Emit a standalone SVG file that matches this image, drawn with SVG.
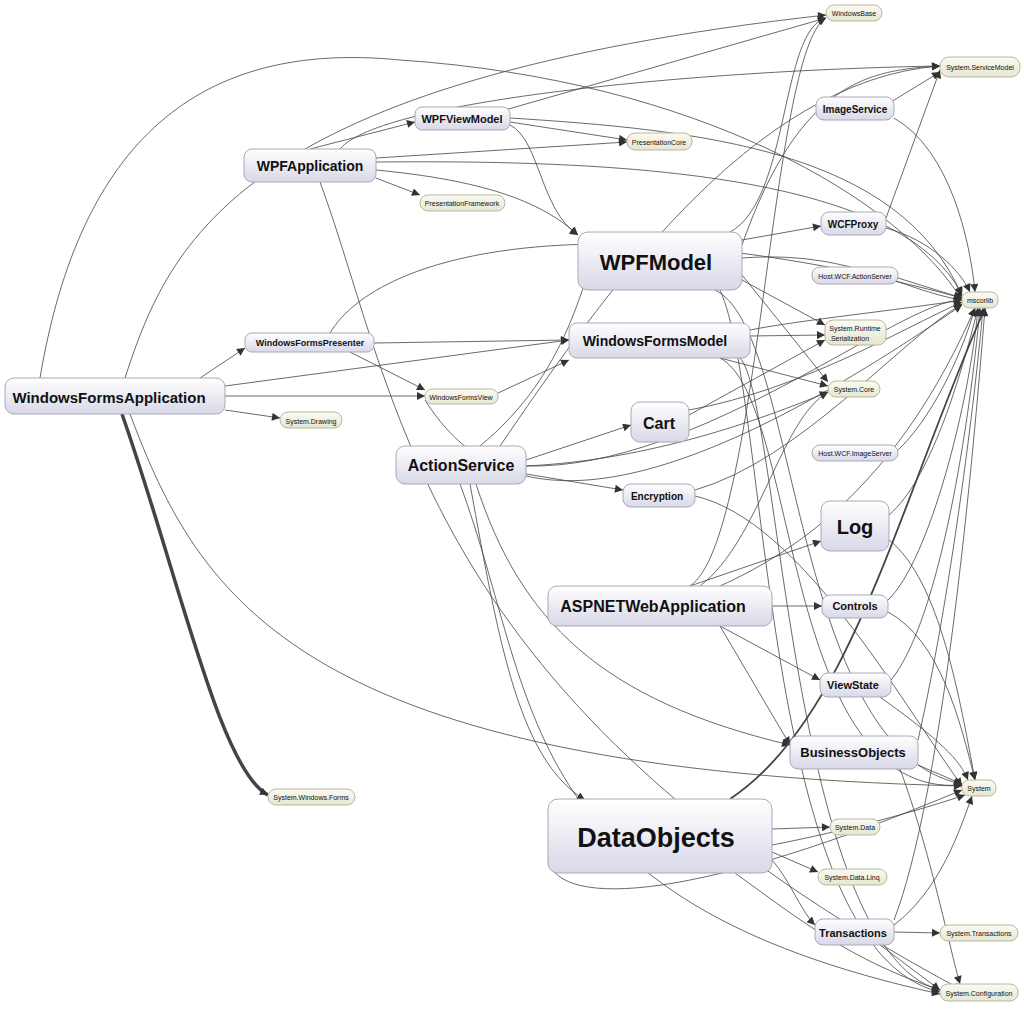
<svg xmlns="http://www.w3.org/2000/svg" width="1024" height="1020" viewBox="0 0 1024 1020">
<defs>
<linearGradient id="gb" x1="0" y1="0" x2="0" y2="1"><stop offset="0" stop-color="#ffffff"/><stop offset="1" stop-color="#d8d8e8"/></linearGradient>
<linearGradient id="gy" x1="0" y1="0" x2="0" y2="1"><stop offset="0" stop-color="#fbfbf3"/><stop offset="1" stop-color="#e6e6d2"/></linearGradient>
<marker id="a" viewBox="0 0 10 10" refX="10" refY="5" markerWidth="12" markerHeight="8" markerUnits="userSpaceOnUse" orient="auto"><path d="M0,0 L10,5 L0,10 z" fill="#333"/></marker>
</defs>
<style>
.n rect{fill:url(#gb);stroke:#a8a8b8;stroke-width:1}
.x rect{fill:url(#gy);stroke:#b8b8a0;stroke-width:1}
text{font-family:"Liberation Sans",Arial,sans-serif;fill:#111;text-anchor:middle;dominant-baseline:central}
.n text{font-weight:bold}
.n text.h{font-weight:normal;font-size:7px}
.x text{font-size:7px}
#edges path{fill:none;stroke:#444;stroke-width:0.8;marker-end:url(#a)}
#edges path.t{stroke-width:3.5}
#edges path.m{stroke-width:1.8}
</style>
<rect width="1024" height="1020" fill="#fff"/>
<g id="edges">
<path d="M125,378 C170,240 240,80 826,15"/>
<path d="M200,378 L245,348"/>
<path d="M225,386 L569,340"/>
<path d="M225,396 L425,396"/>
<path d="M225,410 L280,418"/>
<path class="t" d="M122,414 C180,580 220,770 268,795"/>
<path d="M130,414 C200,600 300,770 962,786"/>
<path d="M40,378 C80,140 200,40 400,60 C700,80 900,200 962,300"/>
<path d="M310,149 L415,122"/>
<path d="M376,158 L627,142"/>
<path d="M376,178 L420,195"/>
<path d="M376,170 C480,180 540,200 578,235"/>
<path d="M376,162 C600,160 900,170 962,295"/>
<path d="M340,149 C380,100 700,70 940,66"/>
<path d="M320,182 C400,400 420,700 962,990"/>
<path d="M505,110 L826,18"/>
<path d="M510,122 L627,140"/>
<path d="M510,125 C540,140 540,210 578,235"/>
<path d="M510,118 C700,130 900,150 962,296"/>
<path d="M374,343 L569,340"/>
<path d="M350,352 L425,390"/>
<path d="M330,333 C380,250 600,200 962,298"/>
<path d="M498,393 L569,360"/>
<path d="M425,400 C500,520 650,520 962,305"/>
<path d="M750,336 L825,335"/>
<path d="M720,358 L828,386"/>
<path d="M750,330 C800,320 900,310 962,300"/>
<path d="M720,358 C800,400 780,800 962,785"/>
<path d="M740,358 C780,400 790,950 940,990"/>
<path d="M742,240 L821,226"/>
<path d="M742,280 L825,325"/>
<path d="M742,275 L828,382"/>
<path d="M742,258 C850,250 900,290 962,300"/>
<path d="M730,232 C790,200 780,30 826,18"/>
<path d="M742,245 C800,80 870,70 940,66"/>
<path d="M715,290 C800,330 790,750 962,784"/>
<path d="M720,290 C770,400 760,950 940,992"/>
<path d="M526,460 L631,425"/>
<path d="M526,474 L623,490"/>
<path d="M480,446 C560,380 580,300 600,232"/>
<path d="M526,466 C650,460 760,420 828,392"/>
<path d="M526,466 C700,470 900,300 962,300"/>
<path d="M476,484 C520,620 600,700 790,745"/>
<path d="M470,484 C500,650 520,760 585,800"/>
<path d="M460,484 C540,700 510,900 940,994"/>
<path d="M500,446 C600,300 750,80 940,66"/>
<path d="M689,415 L825,340"/>
<path d="M689,410 C800,390 900,330 962,302"/>
<path d="M695,490 C800,460 900,340 962,304"/>
<path d="M695,496 C800,520 900,700 962,786"/>
<path d="M886,105 L940,72"/>
<path d="M894,118 C950,150 970,240 975,292"/>
<path d="M886,218 L940,70"/>
<path d="M886,228 C930,240 960,270 970,292"/>
<path d="M898,278 L962,298"/>
<path d="M898,450 C930,420 960,360 975,308"/>
<path d="M889,515 C930,480 960,380 978,308"/>
<path d="M889,540 C940,580 960,700 975,780"/>
<path d="M690,586 L821,541"/>
<path d="M772,606 L822,606"/>
<path d="M720,626 L820,680"/>
<path d="M720,626 L790,745"/>
<path d="M690,586 C760,540 770,50 826,18"/>
<path d="M700,586 C760,540 780,420 828,392"/>
<path d="M720,586 C800,550 900,480 975,308"/>
<path d="M888,600 C930,560 970,400 978,308"/>
<path d="M888,612 C940,640 960,720 975,780"/>
<path d="M891,680 C940,620 970,420 980,308"/>
<path d="M880,697 C940,740 960,760 968,780"/>
<path d="M918,765 L962,784"/>
<path d="M918,740 C950,600 975,400 983,308"/>
<path d="M900,769 C930,850 950,950 960,984"/>
<path d="M772,829 L830,827"/>
<path d="M772,852 L818,872"/>
<path class="m" d="M730,799 C850,720 900,500 985,308"/>
<path d="M772,845 C850,830 920,810 965,795"/>
<path d="M735,873 C800,920 850,960 940,990"/>
<path d="M772,860 C790,880 800,910 815,925"/>
<path d="M894,932 L940,933"/>
<path d="M880,945 L940,990"/>
<path d="M894,925 C940,890 960,830 972,796"/>
<path d="M894,920 C940,800 970,500 985,308"/>
<path d="M548,860 C560,910 700,900 962,790"/>
</g>
<g id="WindowsFormsApplication" class="n"><rect x="5" y="378" width="220" height="36" rx="9"/><text x="109" y="397" font-size="15">WindowsFormsApplication</text></g>
<g id="WPFApplication" class="n"><rect x="244" y="149" width="132" height="33" rx="8"/><text x="310" y="166" font-size="14">WPFApplication</text></g>
<g id="WPFViewModel" class="n"><rect x="415" y="107" width="95" height="23" rx="7"/><text x="462" y="119" font-size="11">WPFViewModel</text></g>
<g id="WindowsBase" class="x"><rect x="826" y="5" width="56" height="16" rx="8"/><text x="854" y="13">WindowsBase</text></g>
<g id="SystemServiceModel" class="x"><rect x="940" y="57" width="80" height="20" rx="9"/><text x="980" y="67">System.ServiceModel</text></g>
<g id="ImageService" class="n"><rect x="816" y="97" width="78" height="23" rx="8"/><text x="855" y="109" font-size="10">ImageService</text></g>
<g id="PresentationCore" class="x"><rect x="627" y="133" width="65" height="17" rx="8"/><text x="659" y="142">PresentationCore</text></g>
<g id="PresentationFramework" class="x"><rect x="420" y="195" width="85" height="16" rx="8"/><text x="462" y="203">PresentationFramework</text></g>
<g id="WPFModel" class="n"><rect x="578" y="232" width="164" height="58" rx="10"/><text x="656" y="262" font-size="22">WPFModel</text></g>
<g id="WCFProxy" class="n"><rect x="821" y="212" width="65" height="23" rx="8"/><text x="853" y="224" font-size="10">WCFProxy</text></g>
<g id="HostWCFActionServer" class="n"><rect x="812" y="267" width="86" height="17" rx="8"/><text class="h" x="855" y="276">Host.WCF.ActionServer</text></g>
<g id="mscorlib" class="x"><rect x="962" y="292" width="36" height="16" rx="7"/><text x="980" y="300">mscorlib</text></g>
<g id="WindowsFormsPresenter" class="n"><rect x="245" y="333" width="129" height="19" rx="7"/><text x="310" y="343" font-size="9">WindowsFormsPresenter</text></g>
<g id="WindowsFormsModel" class="n"><rect x="569" y="323" width="181" height="35" rx="8"/><text x="655" y="341" font-size="14">WindowsFormsModel</text></g>
<g id="SystemRuntimeSerialization" class="x"><rect x="825" y="320" width="61" height="25" rx="8"/><text x="855" y="328">System.Runtime</text><text x="849" y="338">.Serialization</text></g>
<g id="WindowsFormsView" class="x"><rect x="425" y="389" width="73" height="15" rx="7"/><text x="461" y="397">WindowsFormsView</text></g>
<g id="SystemCore" class="x"><rect x="828" y="381" width="52" height="16" rx="8"/><text x="854" y="389">System.Core</text></g>
<g id="SystemDrawing" class="x"><rect x="280" y="412" width="62" height="16" rx="8"/><text x="311" y="421">System.Drawing</text></g>
<g id="Cart" class="n"><rect x="631" y="402" width="58" height="40" rx="9"/><text x="659" y="423" font-size="16">Cart</text></g>
<g id="ActionService" class="n"><rect x="396" y="446" width="130" height="38" rx="9"/><text x="461" y="465" font-size="16">ActionService</text></g>
<g id="HostWCFImageServer" class="n"><rect x="812" y="445" width="86" height="16" rx="8"/><text class="h" x="855" y="453">Host.WCF.ImageServer</text></g>
<g id="Encryption" class="n"><rect x="623" y="484" width="72" height="23" rx="8"/><text x="657" y="496" font-size="10">Encryption</text></g>
<g id="Log" class="n"><rect x="821" y="501" width="68" height="50" rx="9"/><text x="855" y="527" font-size="20">Log</text></g>
<g id="ASPNETWebApplication" class="n"><rect x="548" y="586" width="224" height="40" rx="9"/><text x="653" y="606" font-size="16">ASPNETWebApplication</text></g>
<g id="Controls" class="n"><rect x="822" y="595" width="66" height="23" rx="8"/><text x="855" y="606" font-size="11">Controls</text></g>
<g id="ViewState" class="n"><rect x="820" y="673" width="71" height="24" rx="8"/><text x="853" y="685" font-size="11">ViewState</text></g>
<g id="BusinessObjects" class="n"><rect x="790" y="736" width="128" height="33" rx="8"/><text x="853" y="752" font-size="13">BusinessObjects</text></g>
<g id="System" class="x"><rect x="962" y="780" width="34" height="16" rx="7"/><text x="979" y="788">System</text></g>
<g id="SystemWindowsForms" class="x"><rect x="268" y="789" width="87" height="16" rx="8"/><text x="311" y="797">System.Windows.Forms</text></g>
<g id="DataObjects" class="n"><rect x="548" y="799" width="224" height="74" rx="10"/><text x="656" y="838" font-size="27">DataObjects</text></g>
<g id="SystemData" class="x"><rect x="830" y="819" width="50" height="16" rx="8"/><text x="855" y="827">System.Data</text></g>
<g id="SystemDataLinq" class="x"><rect x="818" y="869" width="69" height="16" rx="8"/><text x="852" y="877">System.Data.Linq</text></g>
<g id="Transactions" class="n"><rect x="815" y="919" width="79" height="26" rx="8"/><text x="853" y="933" font-size="11">Transactions</text></g>
<g id="SystemTransactions" class="x"><rect x="940" y="925" width="78" height="16" rx="8"/><text x="979" y="933">System.Transactions</text></g>
<g id="SystemConfiguration" class="x"><rect x="940" y="984" width="78" height="17" rx="8"/><text x="979" y="993">System.Configuration</text></g>
</svg>
